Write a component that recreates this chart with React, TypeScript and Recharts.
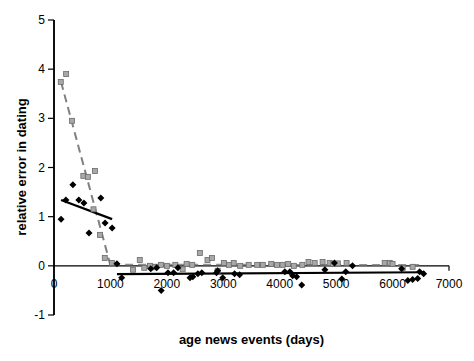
import { ScatterChart, Scatter, XAxis, YAxis, ReferenceLine } from 'recharts';

// grey squares: age (days) vs relative error
const grayAge = [
  120, 215, 320, 520, 600, 725, 700, 815, 900, 1025,
  1400, 1520, 1600, 1700, 1790, 1895, 2000, 2150, 2280, 2350,
  2450, 2585, 2720, 2800, 2900, 3010, 3100, 3185, 3300, 3450,
  3600, 3700, 3850, 3950, 4050, 4150, 4250, 4400, 4510, 4620,
  4760, 4885, 4950, 5030, 5185, 5860, 5950, 6000, 6180, 6355,
];
const grayErr = [
  3.74, 3.9, 2.95, 1.83, 1.81, 1.93, 1.15, 0.63, 0.16, 0.06,
  -0.08, 0.12, -0.04, 0.0, -0.03, 0.02, 0.0, 0.02, -0.07, 0.04,
  0.02, 0.26, 0.12, 0.16, -0.1, 0.06, 0.02, 0.06, 0.0, 0.02,
  0.02, 0.02, 0.04, 0.02, 0.02, 0.04, 0.0, 0.02, 0.08, 0.06,
  0.08, 0.06, 0.04, 0.05, 0.06, 0.06, 0.06, 0.04, -0.04, -0.02,
];

// black diamonds
const blackAge = [
  125, 210, 335, 440, 530, 620, 830, 905, 1030,
  1115, 1200, 1715, 1820, 1900, 2020, 2120, 2195, 2410, 2460,
  2550, 2620, 2880, 2900, 2990, 3200, 3290, 4090, 4180, 4230,
  4300, 4390, 4800, 4970, 5100, 5170, 5290, 6160, 6270, 6355,
  6445, 6480, 6550,
];
const blackErr = [
  0.95, 1.34, 1.65, 1.34, 1.28, 0.67, 1.38, 0.87, 0.77,
  0.04, -0.24, -0.06, -0.04, -0.5, -0.14, -0.14, -0.04, -0.24, -0.22,
  -0.16, -0.14, -0.14, -0.1, -0.24, -0.16, -0.18, -0.12, -0.12, -0.2,
  -0.22, -0.39, -0.08, 0.06, -0.27, -0.12, 0.0, -0.06, -0.3, -0.28,
  -0.26, -0.12, -0.16,
];

// fitted trend lines (end points)
const grayTrendEarly = [{ x: 125, y: 3.74 }, { x: 1010, y: -0.03 }];
const grayTrendLate = [{ x: 1030, y: 0.03 }, { x: 6550, y: 0.02 }];
const blackTrendEarly = [{ x: 125, y: 1.34 }, { x: 1030, y: 0.95 }];
const blackTrendLate = [{ x: 1115, y: -0.17 }, { x: 6570, y: -0.13 }];

const xTicks = [0, 1000, 2000, 3000, 4000, 5000, 6000, 7000];
const yTicks = [-1, 0, 1, 2, 3, 4, 5];

const grayPoints = grayAge.map((age, i) => ({ age, err: grayErr[i] }));
const blackPoints = blackAge.map((age, i) => ({ age, err: blackErr[i] }));

const FONT = 'Liberation Sans, Arial, sans-serif';

const Square = (props: any) => {
  const { cx, cy } = props;
  return <rect x={cx - 2.5} y={cy - 2.5} width={5} height={5} fill="#a8a8a8" stroke="#6a6a6a" strokeWidth={0.8} />;
};

const Diamond = (props: any) => {
  const { cx, cy } = props;
  const r = 3.5;
  return <polygon points={`${cx},${cy - r} ${cx + r},${cy} ${cx},${cy + r} ${cx - r},${cy}`} fill="#000" />;
};

// x tick labels sit just under the zero line, as in the original
const XTick = (props: any) => {
  const { x, y, payload } = props;
  return (
    <text x={x} y={y - 35} textAnchor="middle" fontSize={12} fontFamily={FONT} fill="#000">
      {payload.value}
    </text>
  );
};

// y tick: outward mark plus label
const YTick = (props: any) => {
  const { x, y, payload } = props;
  return (
    <g>
      <line x1={x + 2} x2={x + 8} y1={y} y2={y} stroke="#000" strokeWidth={1.2} />
      <text x={x - 1} y={y + 4} textAnchor="end" fontSize={12} fontFamily={FONT} fill="#000">
        {payload.value}
      </text>
    </g>
  );
};

const titleStyle = {
  position: 'absolute' as const,
  fontFamily: FONT,
  fontSize: 13,
  fontWeight: 'bold' as const,
  color: '#000',
  textAlign: 'center' as const,
  lineHeight: '16px',
  whiteSpace: 'nowrap' as const,
};

export default function App() {
  return (
    <div style={{ position: 'absolute', left: 0, top: 0, width: 474, height: 361, background: '#fff' }}>
      <ScatterChart width={474} height={361} margin={{ top: 20, right: 25, bottom: 0, left: 0 }}>
        <XAxis
          type="number"
          dataKey="age"
          domain={[0, 7000]}
          ticks={xTicks}
          axisLine={false}
          tickLine={false}
          tick={<XTick />}
          height={46}
        />
        <YAxis
          type="number"
          dataKey="err"
          domain={[-1, 5]}
          ticks={yTicks}
          width={54}
          axisLine={{ stroke: '#000', strokeWidth: 1.5 }}
          tickLine={false}
          tick={<YTick />}
          zIndex={2500}
        />
        <ReferenceLine y={0} stroke="#000" strokeWidth={1.2} />
        <Scatter data={grayPoints} shape={<Square />} isAnimationActive={false} />
        <Scatter data={blackPoints} shape={<Diamond />} isAnimationActive={false} />
        <ReferenceLine segment={grayTrendEarly} stroke="#808080" strokeWidth={2} strokeDasharray="8 5" />
        <ReferenceLine segment={grayTrendLate} stroke="#909090" strokeWidth={1.5} strokeDasharray="8 5" />
        <ReferenceLine segment={blackTrendEarly} stroke="#000" strokeWidth={2.2} />
        <ReferenceLine segment={blackTrendLate} stroke="#000" strokeWidth={2.2} />
        <ReferenceLine x={0} stroke="#000" strokeWidth={1.5} ifOverflow="visible" zIndex={2500} />
        <ReferenceLine
          segment={[{ x: 7000, y: 0 }, { x: 7000, y: -0.1 }]}
          stroke="#000"
          strokeWidth={1.2}
          ifOverflow="visible"
          zIndex={2500}
        />
      </ScatterChart>
      <div style={{ ...titleStyle, left: 54, width: 395, top: 332 }}>age news events (days)</div>
      <div style={{ ...titleStyle, left: -78, width: 200, top: 159, transform: 'rotate(-90deg)' }}>
        relative error in dating
      </div>
    </div>
  );
}
